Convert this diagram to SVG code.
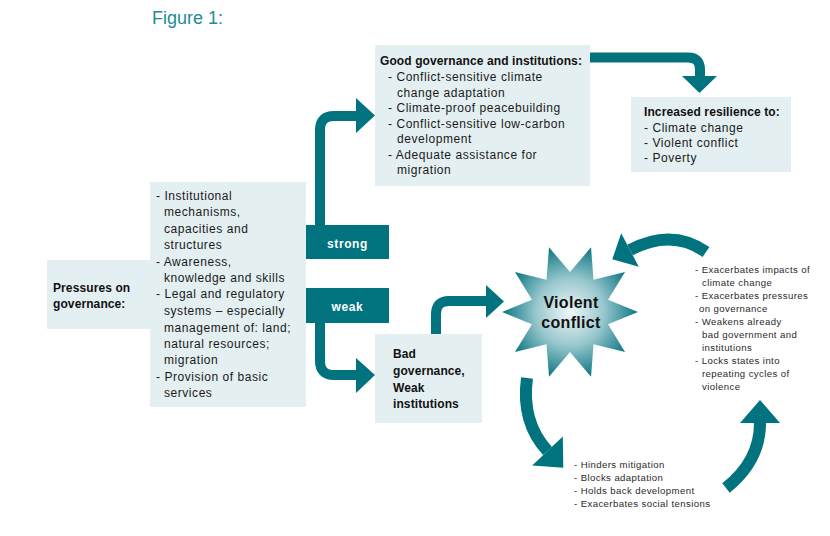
<svg xmlns="http://www.w3.org/2000/svg" width="830" height="536" viewBox="0 0 830 536">
<style>
  .box { fill: #e4eff1; }
  .tag { fill: #00737f; }
  .t { font-family: "Liberation Sans", Arial, sans-serif; font-size: 12px; fill: #1a1a1a; letter-spacing: 0.55px; }
  .b { font-family: "Liberation Sans", Arial, sans-serif; font-size: 12px; font-weight: bold; fill: #111; letter-spacing: 0.1px; }
  .s { font-family: "Liberation Sans", Arial, sans-serif; font-size: 9.6px; fill: #2a2a2a; letter-spacing: 0.4px; }
  .w { font-family: "Liberation Sans", Arial, sans-serif; font-size: 12px; font-weight: bold; fill: #ffffff; letter-spacing: 0.6px; }
  .conn { fill: none; stroke: #00737f; stroke-width: 10; }
  .arc { fill: none; stroke: #00737f; stroke-width: 12; }
  .head { fill: #00737f; }
</style>
<defs>
  <radialGradient id="starGrad" gradientUnits="userSpaceOnUse" cx="570" cy="312" r="68">
    <stop offset="0" stop-color="#f0f7f8"/>
    <stop offset="0.5" stop-color="#98c7cd"/>
    <stop offset="1" stop-color="#087581"/>
  </radialGradient>
</defs>

<text x="152" y="24" font-family="Liberation Sans, Arial, sans-serif" font-size="18" fill="#1e8b9b">Figure 1:</text>

<g id="connectors">
  <path class="conn" d="M590,57.5 H688 Q700,57.5 700,69.5 V77"/>
  <polygon class="head" points="682,76 717,76 699.5,93"/>
  <path class="conn" d="M320,225 V130 Q320,116 334,116 H357"/>
  <polygon class="head" points="356,98 356,133 375,115.5"/>
  <path class="conn" d="M320,323 V361 Q320,375 334,375 H357"/>
  <polygon class="head" points="356,358 356,393 375,375"/>
  <path class="conn" d="M436,334 V314 Q436,301 449,301 H487"/>
  <polygon class="head" points="486,285 486,318 504,301.5"/>
  <path class="arc" d="M706,252 Q672,228 630,250"/>
  <polygon class="head" points="638.8,266.8 621.2,233.2 612.3,259.3"/>
  <path class="arc" d="M527,378 Q521,422 547.5,451"/>
  <polygon class="head" points="562.8,436.6 532.2,465.4 563.3,467.7"/>
  <path class="arc" d="M726,488 Q760,461 760,423"/>
  <polygon class="head" points="740,423 780,423 760,400"/>
</g>

<g id="good-governance">
  <rect class="box" x="375" y="45" width="215" height="141"/>
  <text class="b" x="380" y="65">Good governance and institutions:</text>
  <text class="t" x="388" y="81">- Conflict-sensitive climate</text>
  <text class="t" x="397" y="96.5">change adaptation</text>
  <text class="t" x="388" y="112">- Climate-proof peacebuilding</text>
  <text class="t" x="388" y="127.5">- Conflict-sensitive low-carbon</text>
  <text class="t" x="397" y="143">development</text>
  <text class="t" x="388" y="159">- Adequate assistance for</text>
  <text class="t" x="397" y="174">migration</text>
</g>

<g id="resilience">
  <rect class="box" x="631" y="97" width="160" height="75"/>
  <text class="b" x="644" y="116">Increased resilience to:</text>
  <text class="t" x="644" y="132">- Climate change</text>
  <text class="t" x="644" y="146.5">- Violent conflict</text>
  <text class="t" x="644" y="162">- Poverty</text>
</g>

<g id="pressures">
  <rect class="box" x="47" y="260" width="103" height="69"/>
  <text class="b" x="53" y="292">Pressures on</text>
  <text class="b" x="53" y="308">governance:</text>
</g>

<g id="factors">
  <rect class="box" x="150" y="182" width="156" height="225"/>
  <text class="t" x="156" y="200">- Institutional</text>
  <text class="t" x="164" y="216">mechanisms,</text>
  <text class="t" x="164" y="233">capacities and</text>
  <text class="t" x="164" y="249">structures</text>
  <text class="t" x="156" y="266">- Awareness,</text>
  <text class="t" x="164" y="282">knowledge and skills</text>
  <text class="t" x="156" y="298">- Legal and regulatory</text>
  <text class="t" x="164" y="315">systems – especially</text>
  <text class="t" x="164" y="332">management of: land;</text>
  <text class="t" x="164" y="348">natural resources;</text>
  <text class="t" x="164" y="364">migration</text>
  <text class="t" x="156" y="381">- Provision of basic</text>
  <text class="t" x="164" y="397">services</text>
</g>

<g id="strong">
  <rect class="tag" x="306" y="225" width="83" height="34"/>
  <text class="w" x="347.5" y="248" text-anchor="middle">strong</text>
</g>

<g id="weak">
  <rect class="tag" x="306" y="288" width="83" height="35"/>
  <text class="w" x="347.5" y="311" text-anchor="middle">weak</text>
</g>

<g id="bad-governance">
  <rect class="box" x="375" y="334" width="107" height="89"/>
  <text class="b" x="393" y="358">Bad</text>
  <text class="b" x="393" y="375">governance,</text>
  <text class="b" x="393" y="392">Weak</text>
  <text class="b" x="393" y="408">institutions</text>
</g>

<g id="violent-conflict">
  <polygon fill="url(#starGrad)" points="638,312 608.04,299.64 625.01,272.03 593.51,279.64 591.01,247.33 570,272 548.99,247.33 546.49,279.64 514.99,272.03 531.96,299.64 502,312 531.96,324.36 514.99,351.97 546.49,344.36 548.99,376.67 570,352 591.01,376.67 593.51,344.36 625.01,351.97 608.04,324.36"/>
  <text x="571" y="308" text-anchor="middle" font-family="Liberation Sans, Arial, sans-serif" font-size="16" font-weight="bold" fill="#111" letter-spacing="0.3">Violent</text>
  <text x="571" y="328" text-anchor="middle" font-family="Liberation Sans, Arial, sans-serif" font-size="16" font-weight="bold" fill="#111" letter-spacing="0.3">conflict</text>
</g>

<g id="effects-right">
  <text class="s" x="695" y="273">- Exacerbates impacts of</text>
  <text class="s" x="702" y="286">climate change</text>
  <text class="s" x="695" y="299">- Exacerbates pressures</text>
  <text class="s" x="699" y="312">on governance</text>
  <text class="s" x="695" y="325">- Weakens already</text>
  <text class="s" x="702" y="338">bad government and</text>
  <text class="s" x="702" y="351">institutions</text>
  <text class="s" x="695" y="364">- Locks states into</text>
  <text class="s" x="702" y="377">repeating cycles of</text>
  <text class="s" x="702" y="390">violence</text>
</g>

<g id="effects-bottom">
  <text class="s" x="574" y="468">- Hinders mitigation</text>
  <text class="s" x="574" y="481">- Blocks adaptation</text>
  <text class="s" x="574" y="494">- Holds back development</text>
  <text class="s" x="574" y="507">- Exacerbates social tensions</text>
</g>
</svg>
